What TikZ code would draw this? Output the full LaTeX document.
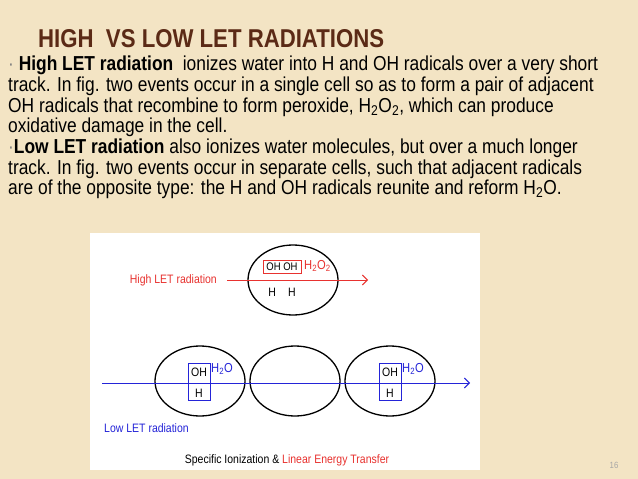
\documentclass[tikz,border=0pt]{standalone}
\usepackage{fontspec}
\usetikzlibrary{shapes.geometric,arrows.meta}
\setmainfont[FakeStretch=0.86]{Liberation Sans}
\begin{document}
\begin{tikzpicture}[x=1pt,y=-1pt,
  body/.style={anchor=base west,inner sep=0,font=\fontsize{20.2}{22}\selectfont},
  dia/.style={inner sep=0,font=\fontsize{12.2}{13}\selectfont},
  sub/.style={inner sep=0,font=\fontsize{13}{14}\selectfont},
  cell/.style={draw=black,line width=1.3pt,ellipse,minimum width=90pt,minimum height=70pt},
]
\definecolor{bg}{HTML}{F3E4C4}
\definecolor{ttl}{HTML}{5B2A16}
\definecolor{rd}{HTML}{E8322F}
\definecolor{bl}{HTML}{2424D8}
\useasboundingbox (0,0) rectangle (638,479);
\fill[bg] (0,0) rectangle (638,479);
\node[anchor=base west,inner sep=0,text=ttl,font=\bfseries\fontsize{25.8}{27}\selectfont] (t) at (38,47) {HIGH\ \ VS LOW LET RADIATIONS};
\node[body] (l1) at (8,70) {\textcolor{gray}{·} \textbf{High LET radiation}\ \ ionizes water into H and OH radicals over a very short};
\node[body] (l2) at (8,91) {track. In fig. two events occur in a single cell so as to form a pair of adjacent};
\node[body] (l3) at (8,112) {OH radicals that recombine to form peroxide, H\textsubscript{2}O\textsubscript{2}, which can produce};
\node[body] (l4) at (8,132) {oxidative damage in the cell.};
\node[body] (l5) at (8,153) {\textcolor{gray}{·}\textbf{Low LET radiation} also ionizes water molecules, but over a much longer};
\node[body] (l6) at (8,174) {track. In fig. two events occur in separate cells, such that adjacent radicals};
\node[body] (l7) at (8,194) {are of the opposite type: the H and OH radicals reunite and reform H\textsubscript{2}O.};
\fill[white] (90,233) rectangle (480,470);
% high
\node[cell] (hc) at (293,280) {};
\coordinate (ha) at (227,280); \coordinate (hb) at (368,280);
\draw[rd,line width=0.9pt,-{Straight Barb[length=5pt,width=10pt]}] (ha) -- (hb);
\node[dia,text=rd,anchor=east] (hl) at (217,280) {High LET radiation};
\node[dia,draw=rd,line width=0.8pt,inner sep=1.2pt,minimum width=38pt,minimum height=13pt,font=\fontsize{11}{12}\selectfont] (oh) at (282,267) {OH\ OH};
\node[sub,text=rd,anchor=west] (h2o2) at (304,266) {H\textsubscript{2}O\textsubscript{2}};
\node[dia] (hh) at (282,292) {H\quad H};
% low
\node[cell] (c1) at (200,381) {};
\node[cell] (c2) at (295,381) {};
\node[cell] (c3) at (390,381) {};
\coordinate (la) at (102,383); \coordinate (lb) at (470,383);
\draw[bl,line width=0.9pt,-{Straight Barb[length=5pt,width=10pt]}] (la) -- (lb);
\draw[bl,line width=0.8pt] (188,363) rectangle (210,400);
\draw[bl,line width=0.8pt] (379,363) rectangle (401,400);
\node[dia] (o1) at (199,372) {OH};
\node[dia] (h1) at (199,393) {H};
\node[dia] (o2) at (390,372) {OH};
\node[dia] (h2) at (390,393) {H};
\node[sub,text=bl,anchor=west] (w1) at (211,369) {H\textsubscript{2}O};
\node[sub,text=bl,anchor=west] (w2) at (402,369) {H\textsubscript{2}O};
\node[dia,text=bl,anchor=west] (ll) at (104,428) {Low LET radiation};
\node[dia] (cap) at (287,460) {Specific Ionization \& \textcolor{rd}{Linear Energy Transfer}};
\node[dia,text=gray!70,font=\fontsize{9}{10}\selectfont] (pg) at (614,465) {16};
\end{tikzpicture}
\end{document}
